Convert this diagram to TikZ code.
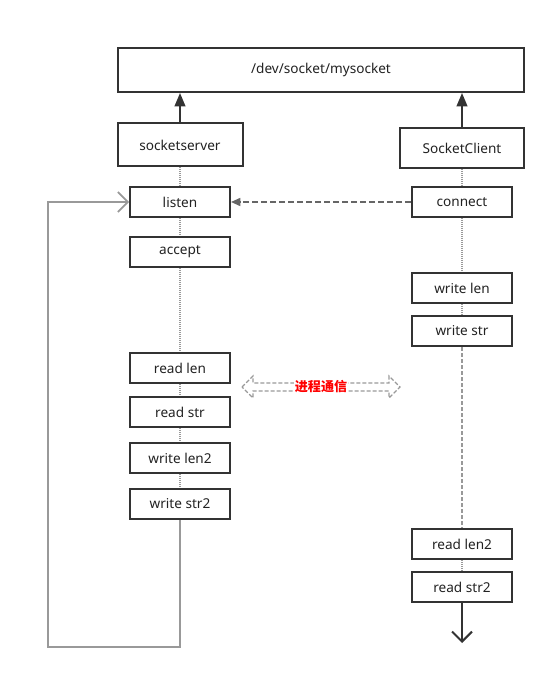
\documentclass[tikz,border=0pt]{standalone}
\usepackage{fontspec}
\setmainfont{Noto Sans}
\newfontfamily\cjk{Noto Sans CJK SC}
\usetikzlibrary{arrows.meta}
\definecolor{boxc}{HTML}{333333}
\definecolor{txt}{HTML}{222222}
\definecolor{lnk}{HTML}{999999}
\definecolor{dsh}{HTML}{666666}
\tikzset{
  box/.style={draw=boxc, line width=1.5pt, fill=white, minimum width=75pt, minimum height=22.5pt,
    inner sep=0pt, text=txt, font=\fontsize{10.2}{12}\selectfont},
  bigbox/.style={box, minimum width=304.5pt, minimum height=33pt},
  dotline/.style={draw=lnk, line width=0.8pt, dash pattern=on 0.75pt off 0.75pt},
  dashline/.style={draw=lnk, line width=1.2pt, dash pattern=on 3pt off 1.5pt},
  thickarrow/.style={draw=boxc, line width=1.5pt, -{Triangle[length=10pt,width=8pt]}},
}
\begin{document}
\begin{tikzpicture}[x=0.75pt,y=-0.75pt]
\useasboundingbox (0,0) rectangle (556,680);
% nodes
\node[bigbox] (dev) at (321,70) {/dev/socket/mysocket};
\node[box, minimum width=93.75pt, minimum height=32.25pt] (srv) at (180,145) {socketserver};
\node[box, minimum width=93pt, minimum height=30pt] (cli) at (462,148) {SocketClient};
\node[box] (listen) at (180,202) {listen};
\node[box] (accept) at (180,252) {accept};
\node[box] (rlen) at (180,368) {read len};
\node[box] (rstr) at (180,412) {read str};
\node[box] (wlen2) at (180,458) {write len2};
\node[box] (wstr2) at (180,504) {write str2};
\node[box] (conn) at (462,202) {connect};
\node[box] (wlen) at (462,288) {write len};
\node[box] (wstr) at (462,331) {write str};
\node[box] (rlen2) at (462,544) {read len2};
\node[box] (rstr2) at (462,587) {read str2};
\coordinate (endc) at (462,643);
\coordinate (lb) at (180,647);
\coordinate (ll) at (48,647);
\coordinate (lt) at (48,202);
% arrows to dev
\draw[thickarrow] (srv.north) -- (srv.north |- dev.south);
\draw[thickarrow] (cli.north) -- (cli.north |- dev.south);
% dotted lifelines
\draw[dotline] (srv.south) -- (listen.north);
\draw[dotline] (listen.south) -- (accept.north);
\draw[dotline] (accept.south) -- (rlen.north);
\draw[dotline] (rlen.south) -- (rstr.north);
\draw[dotline] (rstr.south) -- (wlen2.north);
\draw[dotline] (wlen2.south) -- (wstr2.north);
\draw[dotline] (cli.south) -- (conn.north);
\draw[dotline] (conn.south) -- (wlen.north);
\draw[dotline] (wlen.south) -- (wstr.north);
\draw[dashline] (wstr.south) -- (rlen2.north);
\draw[dotline] (rlen2.south) -- (rstr2.north);
% connect -> listen
\draw[draw=dsh, line width=1.2pt, dash pattern=on 4.5pt off 2.25pt, -{Triangle[length=7pt,width=6pt]}] (conn.west) -- (listen.east);
% end arrow
\draw[draw=boxc, line width=1.5pt, -{Straight Barb[length=7.5pt,width=15pt]}] (rstr2.south) -- (endc);
% loop
\draw[draw=lnk, line width=1.2pt, -{Straight Barb[length=7.5pt,width=15pt]}] (wstr2.south) -- (lb) -- (ll) -- (lt) -- (listen.west);
% IPC double arrow
\draw[draw=lnk, line width=0.9pt, dash pattern=on 3pt off 1.5pt]
  (242,387) -- (253,376) -- (253,383) -- (389,383) -- (389,376) -- (400,387)
  -- (389,398) -- (389,391) -- (253,391) -- (253,398) -- cycle;
\node[fill=white, inner sep=0.5pt, text=red, font=\cjk\bfseries\fontsize{9.8}{11}\selectfont] (ipc) at (321,387) {进程通信};
\end{tikzpicture}
\end{document}
